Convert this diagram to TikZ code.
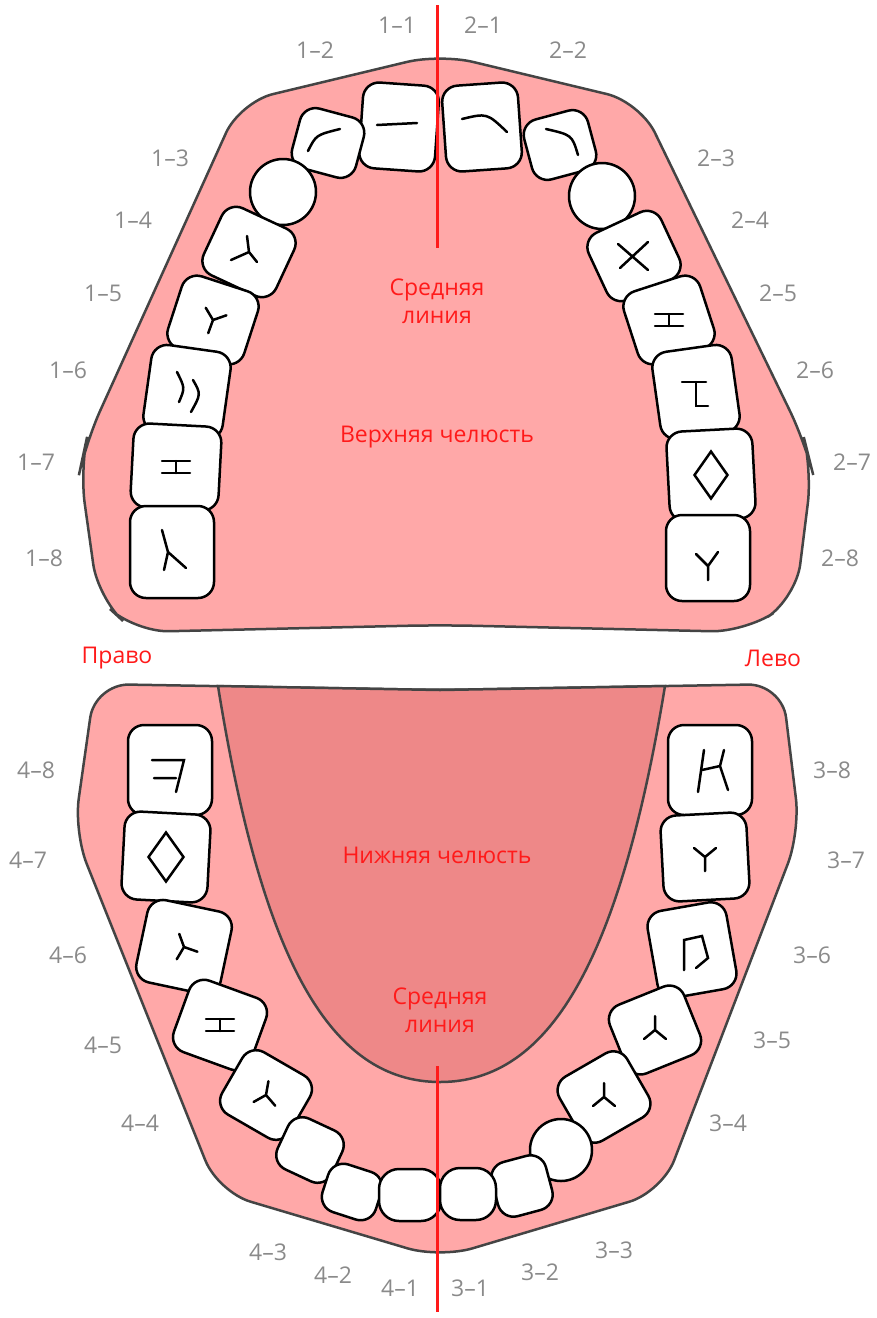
\documentclass[tikz,border=0pt]{standalone}
\usepackage{fontspec}
\setmainfont{Open Sans}
\usetikzlibrary{shapes.geometric}

\definecolor{gumpink}{HTML}{FFA8A8}
\definecolor{tongue}{HTML}{EE8888}
\definecolor{edge}{HTML}{444444}
\definecolor{numgray}{HTML}{8A8A8A}
\definecolor{midred}{HTML}{FF1A1A}

\tikzset{
  jaw/.style={draw=edge, fill=gumpink, line width=2.5pt, rounded corners=34pt},
  tooth/.style={draw=black, fill=white, line width=2.5pt, rounded corners=16pt, inner sep=0pt},
  notch/.style={line width=2.5pt, line cap=round},
  num/.style={text=numgray, font=\fontsize{23}{26}\selectfont},
  redtxt/.style={text=midred, font=\fontsize{23}{28}\selectfont, align=center},
  midline/.style={draw=midred, line width=3pt}
}

% Y-shaped groove inside a molar
\newcommand{\ymark}[2]{%
  \draw[notch, shift={(#1.center)}, rotate=#2] (0,0) -- (0,14) (0,0) -- (-11,-9) (0,0) -- (11,-9);}
\newcommand{\hmark}[2]{%
  \draw[notch, shift={(#1.center)}, rotate=#2] (-6,-14) -- (-6,14) (6,-14) -- (6,14) (-6,0) -- (6,0);}

\begin{document}
\begin{tikzpicture}[x=1pt, y=-1pt]
    \useasboundingbox (0,0) rectangle (876,1318);

    % upper jaw
    \draw[jaw] (440,54) -- (640,102) -- (805,442) -- (812,470) -- (796,598)
      -- (745,632) -- (440,625) -- (135,632) -- (98,598) -- (80,470) -- (86,442)
      -- (240,102) -- cycle;

    % lower jaw
    \draw[jaw] (95,684) -- (440,690) -- (782,684) -- (800,832) -- (662,1192)
      -- (440,1258) -- (218,1192) -- (74,832) -- cycle;
    \draw[draw=edge, fill=tongue, line width=2.5pt] (218,686)
      .. controls (262,960) and (330,1082) .. (440,1082)
      .. controls (550,1082) and (620,960) .. (665,686)
      -- (440,690) -- cycle;

    % upper teeth
    \node[tooth, minimum width=76, minimum height=86, rotate=-4] (t11) at (399,127) {};
    \node[tooth, minimum width=76, minimum height=86, rotate=4] (t21) at (482,127) {};
    \node[tooth, minimum width=66, minimum height=62, rotate=-15] (t12) at (328,143) {};
    \node[tooth, minimum width=66, minimum height=62, rotate=15] (t22) at (560,145) {};
    \node[tooth, circle, minimum size=66] (t13) at (283,192) {};
    \node[tooth, circle, minimum size=66] (t23) at (602,196) {};
    \node[tooth, minimum width=80, minimum height=74, rotate=-25] (t14) at (249,252) {};
    \node[tooth, minimum width=80, minimum height=74, rotate=25] (t24) at (634,256) {};
    \node[tooth, minimum width=80, minimum height=76, rotate=-18] (t15) at (213,320) {};
    \node[tooth, minimum width=80, minimum height=76, rotate=18] (t25) at (669,320) {};
    \node[tooth, minimum width=80, minimum height=88, rotate=-8] (t16) at (187,392) {};
    \node[tooth, minimum width=80, minimum height=88, rotate=8] (t26) at (696,392) {};
    \node[tooth, minimum width=88, minimum height=84, rotate=-3] (t17) at (176,467) {};
    \node[tooth, minimum width=86, minimum height=90, rotate=3] (t27) at (711,475) {};
    \node[tooth, minimum width=84, minimum height=92] (t18) at (172,552) {};
    \node[tooth, minimum width=84, minimum height=86] (t28) at (708,558) {};

    % lower teeth
    \node[tooth, minimum width=84, minimum height=90] (t48) at (170,770) {};
    \node[tooth, minimum width=84, minimum height=90] (t38) at (710,770) {};
    \node[tooth, minimum width=86, minimum height=88, rotate=-3] (t47) at (166,857) {};
    \node[tooth, minimum width=86, minimum height=86, rotate=3] (t37) at (705,857) {};
    \node[tooth, minimum width=86, minimum height=84, rotate=-12] (t46) at (184,947) {};
    \node[tooth, minimum width=80, minimum height=88, rotate=10] (t36) at (692,950) {};
    \node[tooth, minimum width=82, minimum height=76, rotate=-20] (t45) at (220,1025) {};
    \node[tooth, minimum width=80, minimum height=74, rotate=22] (t35) at (655,1030) {};
    \node[tooth, minimum width=78, minimum height=72, rotate=-30] (t44) at (266,1095) {};
    \node[tooth, minimum width=78, minimum height=74, rotate=30] (t34) at (604,1097) {};
    \node[tooth, minimum width=60, minimum height=56, rotate=-25] (t43) at (310,1150) {};
    \node[tooth, circle, minimum size=62] (t33) at (561,1150) {};
    \node[tooth, minimum width=56, minimum height=50, rotate=-18] (t42) at (352,1192) {};
    \node[tooth, minimum width=56, minimum height=56, rotate=15] (t32) at (522,1186) {};
    \node[tooth, minimum width=62, minimum height=52, rounded corners=20pt] (t41) at (410,1195) {};
    \node[tooth, minimum width=56, minimum height=52, rounded corners=20pt] (t31) at (468,1194) {};

    % grooves
    \draw[notch] ([shift={(-22,-2)}]t11.center) -- ([shift={(18,-4)}]t11.center);
    \draw[notch] ([shift={(-20,-8)}]t21.center) .. controls ([shift={(5,-14)}]t21.center) .. ([shift={(25,5)}]t21.center);
    \draw[notch] ([shift={(-20,8)}]t12.center) .. controls ([shift={(-12,-8)}]t12.center) .. ([shift={(12,-14)}]t12.center);
    \draw[notch] ([shift={(-14,-16)}]t22.center) .. controls ([shift={(12,-10)}]t22.center) .. ([shift={(18,10)}]t22.center);
    \draw[notch] ([shift={(-18,8)}]t14.center) -- ([shift={(0,0)}]t14.center) -- ([shift={(-2,-16)}]t14.center) ([shift={(0,0)}]t14.center) -- ([shift={(8,10)}]t14.center);
    \draw[notch] ([shift={(-16,-12)}]t24.center) -- ([shift={(14,14)}]t24.center) ([shift={(-14,12)}]t24.center) -- ([shift={(14,-14)}]t24.center);
    \ymark{t15}{-20}
    \hmark{t25}{90}
    \draw[notch] ([shift={(-10,-20)}]t16.center) .. controls ([shift={(-2,-4)}]t16.center) .. ([shift={(-8,10)}]t16.center)
      ([shift={(6,-12)}]t16.center) .. controls ([shift={(14,2)}]t16.center) .. ([shift={(4,20)}]t16.center);
    \draw[notch] ([shift={(-14,-10)}]t26.center) -- ([shift={(10,-10)}]t26.center) ([shift={(0,-10)}]t26.center) -- ([shift={(0,14)}]t26.center) -- ([shift={(12,14)}]t26.center);
    \hmark{t17}{90}
    \node[draw, diamond, line width=2.5pt, minimum width=34, minimum height=48, inner sep=0pt] (d27) at (t27.center) {};
    \draw[notch] ([shift={(-10,-22)}]t18.center) -- ([shift={(-4,0)}]t18.center) -- ([shift={(-8,18)}]t18.center) ([shift={(-4,0)}]t18.center) -- ([shift={(14,16)}]t18.center);
    \draw[notch] ([shift={(-12,-4)}]t28.center) -- ([shift={(0,8)}]t28.center) -- ([shift={(10,-6)}]t28.center) ([shift={(0,8)}]t28.center) -- ([shift={(0,22)}]t28.center);

    \draw[notch] ([shift={(-18,-10)}]t48.center) -- ([shift={(14,-10)}]t48.center) -- ([shift={(6,22)}]t48.center) ([shift={(-16,8)}]t48.center) -- ([shift={(6,8)}]t48.center);
    \node[draw, diamond, line width=2.5pt, minimum width=36, minimum height=50, inner sep=0pt] (d47) at (t47.center) {};
    \ymark{t46}{200}
    \hmark{t45}{90}
    \ymark{t44}{170}
    \ymark{t35}{180}
    \ymark{t34}{180}
    \draw[notch] ([shift={(-8,20)}]t36.center) -- ([shift={(-8,-10)}]t36.center) -- ([shift={(10,-14)}]t36.center) -- ([shift={(16,8)}]t36.center) -- ([shift={(4,18)}]t36.center);
    \ymark{t37}{0}
    \draw[notch] ([shift={(-12,22)}]t38.center) -- ([shift={(-6,-20)}]t38.center) ([shift={(-8,0)}]t38.center) -- ([shift={(10,-4)}]t38.center) -- ([shift={(18,20)}]t38.center) ([shift={(10,-4)}]t38.center) -- ([shift={(14,-20)}]t38.center);

    % midlines
    \coordinate (uptop) at (437,5);
    \coordinate (upend) at (437,248);
    \coordinate (lowtop) at (437,1066);
    \coordinate (lowend) at (437,1312);
    \draw[midline] (uptop) -- (upend);
    \draw[midline] (lowtop) -- (lowend);

    % red labels
    \node[redtxt] (midup) at (437,301) {Средняя\\линия};
    \node[redtxt] (upjaw) at (437,437) {Верхняя челюсть};
    \node[redtxt] (right) at (117,658) {Право};
    \node[redtxt] (left) at (773,658) {Лево};
    \node[redtxt] (lowjaw) at (437,855) {Нижняя челюсть};
    \node[redtxt] (midlow) at (440,1010) {Средняя\\линия};

    % tooth numbers
    \foreach \lab/\x/\y in {1--1/397/25, 2--1/483/25, 1--2/315/50, 2--2/568/50,
        1--3/170/158, 2--3/716/158, 1--4/133/220, 2--4/750/220, 1--5/103/293,
        2--5/778/293, 1--6/68/370, 2--6/815/370, 1--7/36/462, 2--7/852/462,
        1--8/44/558, 2--8/840/558, 4--8/36/770, 3--8/832/770, 4--7/28/860,
        3--7/846/860, 4--6/68/955, 3--6/812/955, 4--5/103/1045, 3--5/772/1040,
        4--4/140/1123, 3--4/728/1123, 4--3/268/1252, 3--3/614/1250,
        4--2/333/1275, 3--2/540/1272, 4--1/400/1288, 3--1/470/1288}
      \node[num] (n\x-\y) at (\x,\y) {\lab};
\end{tikzpicture}
\end{document}
